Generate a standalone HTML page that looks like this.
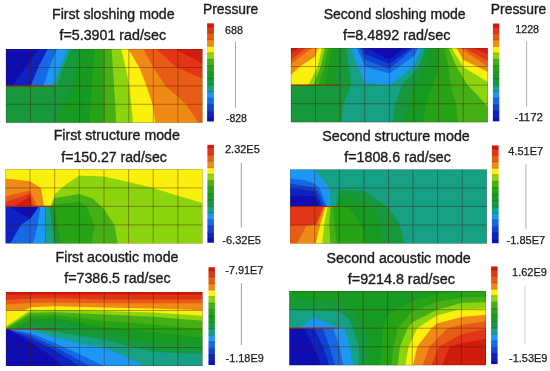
<!DOCTYPE html><html><head><meta charset="utf-8"><title>Pressure mode shapes</title><style>html,body{margin:0;padding:0;background:#fff}svg{display:block}text{font-family:"Liberation Sans",Arial,Helvetica,sans-serif;fill:#1a1a1a}</style></head><body>
<svg width="550" height="371" viewBox="0 0 550 371">
<defs><filter id="soft" x="-2%" y="-2%" width="104%" height="104%"><feGaussianBlur stdDeviation="0.45"/></filter></defs>
<rect width="550" height="371" fill="#fff"/>
<g id="plot1"><clipPath id="c1"><rect x="5.9" y="49.0" width="196.6" height="73.8"/></clipPath>
<g clip-path="url(#c1)"><g filter="url(#soft)">
<rect x="3.9" y="47.0" width="200.6" height="77.8" fill="#149a24"/>
<polygon points="5.9,49.0 79.6,49.0 75.9,67.5 72.3,85.9 63.7,104.3 55.0,122.8 5.9,122.8" fill="#14983c"/>
<polygon points="5.9,49.0 71.3,49.0 63.2,67.5 57.0,85.9 5.9,85.9" fill="#12a084"/>
<polygon points="5.9,49.0 68.1,49.0 60.0,67.5 52.6,85.9 5.9,85.9" fill="#1a98f4"/>
<polygon points="5.9,49.0 57.0,49.0 49.2,67.5 43.3,85.9 5.9,85.9" fill="#1468e4"/>
<polygon points="5.9,49.0 47.7,49.0 38.1,67.5 30.7,85.9 5.9,85.9" fill="#0a24c0"/>
<polygon points="5.9,49.0 38.8,49.0 25.6,67.5 12.5,85.9 5.9,85.9" fill="#0810b2"/>
<polygon points="202.5,49.0 94.4,49.0 93.1,67.5 91.9,85.9 90.7,104.3 89.5,122.8 202.5,122.8" fill="#28a418"/>
<polygon points="202.5,49.0 104.2,49.0 104.2,67.5 104.2,85.9 104.2,104.3 104.2,122.8 202.5,122.8" fill="#44b014"/>
<polygon points="202.5,49.0 111.6,49.0 112.8,67.5 114.0,85.9 115.3,104.3 116.0,122.8 202.5,122.8" fill="#8cd40e"/>
<polygon points="202.5,49.0 121.2,49.0 125.6,67.5 129.3,85.9 131.2,104.3 133.2,122.8 202.5,122.8" fill="#faf010"/>
<polygon points="202.5,49.0 128.3,49.0 139.3,67.5 146.5,85.9 152.6,104.3 155.3,122.8 202.5,122.8" fill="#f08a14"/>
<polygon points="202.5,49.0 143.3,49.0 153.3,67.5 165.6,85.9 186.0,104.3 198.3,122.8 202.5,122.8" fill="#e85c14"/>
<polygon points="202.5,49.0 156.3,49.0 176.7,67.5 202.5,78.5 202.5,78.5" fill="#e03616"/>
<polygon points="202.5,49.0 175.5,49.0 202.5,63.8 202.5,63.8" fill="#d01e0c"/>
</g>
<path d="M5.9 49.0V122.8M30.5 49.0V122.8M55.0 49.0V122.8M79.6 49.0V122.8M104.2 49.0V122.8M128.8 49.0V122.8M153.3 49.0V122.8M177.9 49.0V122.8M202.5 49.0V122.8M5.9 49.0H202.5M5.9 67.5H202.5M5.9 85.9H202.5M5.9 104.3H202.5M5.9 122.8H202.5" stroke="#4a1400" stroke-width="0.8" stroke-opacity="0.5" fill="none"/>
<path d="M5.9 85.9H55.0" stroke="#a02808" stroke-width="1.2" stroke-opacity="0.85" fill="none"/>
</g></g>
<g id="plot2"><clipPath id="c2"><rect x="290.9" y="48.0" width="196.9" height="74.2"/></clipPath>
<g clip-path="url(#c2)"><g filter="url(#soft)">
<rect x="288.9" y="46.0" width="200.9" height="78.2" fill="#14983c"/>
<polygon points="487.8,48.0 430.0,48.0 425.3,66.5 415.4,85.1 408.3,103.7 403.4,122.2 487.8,122.2" fill="#149a24"/>
<polygon points="487.8,48.0 438.6,48.0 438.6,66.5 432.4,85.1 426.3,103.7 422.8,122.2 487.8,122.2" fill="#28a418"/>
<polygon points="487.8,48.0 444.7,48.0 448.4,66.5 450.9,85.1 455.8,103.7 458.3,122.2 487.8,122.2" fill="#44b014"/>
<polygon points="487.8,48.0 448.4,48.0 456.3,66.5 467.6,85.1 485.3,103.7 487.8,107.4 487.8,107.4" fill="#8cd40e"/>
<polygon points="487.8,48.0 451.6,48.0 463.2,66.9 487.8,81.9 487.8,81.9" fill="#faf010"/>
<polygon points="487.8,48.0 456.5,48.0 463.2,59.7 487.8,72.1 487.8,72.1" fill="#f08a14"/>
<polygon points="487.8,48.0 460.2,48.0 487.8,66.5 487.8,66.5" fill="#e85c14"/>
<polygon points="487.8,48.0 464.7,48.0 487.8,61.0 487.8,61.0" fill="#e03616"/>
<polygon points="487.8,48.0 474.0,48.0 487.8,54.5 487.8,54.5" fill="#d01e0c"/>
<polygon points="346.3,48.0 348.5,66.5 351.2,85.1 343.6,103.7 340.6,122.2 392.5,122.2 395.0,103.7 402.1,85.1 418.9,66.5 425.3,48.0" fill="#12a084"/>
<polygon points="350.7,48.0 357.8,66.5 364.7,83.2 389.4,85.1 414.0,66.5 421.3,48.0" fill="#1a98f4"/>
<polygon points="357.1,48.0 364.7,66.5 389.4,73.4 414.0,56.0 418.6,48.0" fill="#1468e4"/>
<polygon points="360.1,48.0 364.7,59.7 389.4,69.1 414.0,48.0" fill="#0e44d2"/>
<polygon points="363.0,48.0 364.7,53.8 389.4,64.0 411.3,48.0" fill="#0a24c0"/>
<polygon points="366.0,48.0 389.4,59.7 404.9,48.0" fill="#0810b2"/>
<polygon points="290.9,48.0 340.1,48.0 337.7,66.5 334.7,85.1 290.9,85.1" fill="#149a24"/>
<polygon points="290.9,48.0 331.8,48.0 328.8,66.5 324.4,85.1 290.9,85.1" fill="#28a418"/>
<polygon points="290.9,48.0 328.1,48.0 324.4,66.5 318.5,85.1 290.9,85.1" fill="#44b014"/>
<polygon points="290.9,48.0 325.1,48.0 320.7,66.5 313.5,85.1 290.9,85.1" fill="#8cd40e"/>
<polygon points="290.9,48.0 322.2,48.0 317.7,66.5 308.4,85.1 290.9,85.1" fill="#faf010"/>
<polygon points="290.9,48.0 317.7,48.0 315.5,56.3 299.8,66.5 290.9,74.9 290.9,74.9" fill="#f08a14"/>
<polygon points="290.9,48.0 312.1,48.0 290.9,64.0 290.9,64.0" fill="#e85c14"/>
<polygon points="290.9,48.0 306.2,48.0 290.9,59.7 290.9,59.7" fill="#e03616"/>
<polygon points="290.9,48.0 298.3,48.0 290.9,54.5 290.9,54.5" fill="#d01e0c"/>
</g>
<path d="M290.9 48.0V122.2M315.5 48.0V122.2M340.1 48.0V122.2M364.7 48.0V122.2M389.4 48.0V122.2M414.0 48.0V122.2M438.6 48.0V122.2M463.2 48.0V122.2M487.8 48.0V122.2M290.9 48.0H487.8M290.9 66.5H487.8M290.9 85.1H487.8M290.9 103.7H487.8M290.9 122.2H487.8" stroke="#4a1400" stroke-width="0.8" stroke-opacity="0.5" fill="none"/>
<path d="M290.9 85.1H340.1" stroke="#a02808" stroke-width="1.2" stroke-opacity="0.85" fill="none"/>
</g></g>
<g id="plot3"><clipPath id="c3"><rect x="5.4" y="169.3" width="197.1" height="74.2"/></clipPath>
<g clip-path="url(#c3)"><g filter="url(#soft)">
<rect x="3.4" y="167.3" width="201.1" height="78.2" fill="#faf010"/>
<polygon points="50.5,206.4 54.7,194.2 66.5,184.1 79.3,175.4 104.0,176.5 128.6,182.1 153.2,187.9 177.9,195.8 202.5,203.1 202.5,243.5 50.5,243.5" fill="#8cd40e"/>
<polygon points="51.7,206.4 54.7,198.1 79.3,194.0 92.6,198.4 104.0,209.2 114.5,224.9 117.7,243.5 51.7,243.5" fill="#44b014"/>
<polygon points="52.2,206.4 54.7,204.5 79.3,201.8 86.7,206.4 94.6,224.9 91.6,243.5 52.2,243.5" fill="#28a418"/>
<polygon points="45.3,206.4 54.2,206.4 60.8,243.5 45.3,243.5" fill="#149a24"/>
<polygon points="45.3,206.4 52.2,206.4 57.6,243.5 45.3,243.5" fill="#14983c"/>
<polygon points="45.3,206.4 49.7,206.4 54.7,243.5 45.3,243.5" fill="#12a084"/>
<polygon points="5.4,206.4 45.3,206.4 45.3,243.5 5.4,243.5" fill="#0a24c0"/>
<polygon points="39.9,206.4 45.3,206.4 45.3,243.5 32.7,243.5 37.4,224.9" fill="#1a98f4"/>
<polygon points="38.7,206.4 39.9,206.4 37.4,224.9 32.7,243.5 10.3,243.5 20.9,224.9 30.0,218.8" fill="#1468e4"/>
<polygon points="9.1,206.4 38.7,206.4 30.0,218.8" fill="#0810b2"/>
<polygon points="5.4,178.4 30.0,181.2 40.9,187.9 44.1,206.4 5.4,206.4" fill="#f08a14"/>
<polygon points="5.4,196.2 30.0,190.4 37.4,206.4 5.4,206.4" fill="#e85c14"/>
<polygon points="5.4,201.9 30.0,193.8 33.0,206.4 5.4,206.4" fill="#e03616"/>
<polygon points="14.0,206.4 30.0,196.6 31.5,206.4" fill="#d01e0c"/>
</g>
<path d="M5.4 169.3V243.5M30.0 169.3V243.5M54.7 169.3V243.5M79.3 169.3V243.5M104.0 169.3V243.5M128.6 169.3V243.5M153.2 169.3V243.5M177.9 169.3V243.5M202.5 169.3V243.5M5.4 169.3H202.5M5.4 187.9H202.5M5.4 206.4H202.5M5.4 224.9H202.5M5.4 243.5H202.5" stroke="#4a1400" stroke-width="0.8" stroke-opacity="0.5" fill="none"/>
<path d="M5.4 206.4H54.7" stroke="#a02808" stroke-width="1.2" stroke-opacity="0.85" fill="none"/>
</g></g>
<g id="plot4"><clipPath id="c4"><rect x="290.1" y="169.5" width="196.7" height="74.0"/></clipPath>
<g clip-path="url(#c4)"><g filter="url(#soft)">
<rect x="288.1" y="167.5" width="200.7" height="78.0" fill="#12a084"/>
<polygon points="336.1,206.5 339.3,189.8 363.9,190.8 376.2,199.1 388.5,207.4 399.0,223.2 404.4,243.5 330.4,243.5 330.4,206.5" fill="#14983c"/>
<polygon points="336.8,206.5 339.3,199.1 354.0,199.1 363.9,201.9 371.7,206.5 380.3,225.0 382.1,243.5 330.4,243.5 330.4,206.5" fill="#149a24"/>
<polygon points="336.8,206.5 349.1,208.3 357.7,218.5 363.9,231.5 365.1,243.5 330.4,243.5 330.4,206.5" fill="#28a418"/>
<polygon points="290.1,206.5 333.1,206.5 334.4,225.0 336.8,243.5 290.1,243.5" fill="#44b014"/>
<polygon points="290.1,206.5 330.4,206.5 329.2,225.0 330.4,243.5 290.1,243.5" fill="#8cd40e"/>
<polygon points="290.1,206.5 327.5,206.5 324.0,225.0 322.3,243.5 290.1,243.5" fill="#faf010"/>
<polygon points="290.1,206.5 325.5,206.5 320.1,225.0 315.7,243.5 290.1,243.5" fill="#f08a14"/>
<polygon points="290.1,206.5 324.3,206.5 317.1,225.0 306.6,225.6 297.0,243.5 290.1,243.5" fill="#e85c14"/>
<polygon points="290.1,206.5 323.0,206.5 315.7,224.4 304.9,225.0 290.1,225.6" fill="#e03616"/>
<polygon points="290.1,169.5 314.7,169.5 329.7,188.0 330.4,206.5 290.1,206.5" fill="#1a98f4"/>
<polygon points="290.1,178.4 304.9,180.2 314.7,183.7 319.6,188.0 327.0,206.5 290.1,206.5" fill="#1468e4"/>
<polygon points="290.1,183.4 314.7,187.6 318.4,191.7 324.8,206.5 290.1,206.5" fill="#0e44d2"/>
<polygon points="290.1,188.0 314.7,191.1 322.6,206.5 290.1,206.5" fill="#0a24c0"/>
<polygon points="290.1,195.4 314.7,196.3 319.6,206.5 290.1,206.5" fill="#0810b2"/>
</g>
<path d="M290.1 169.5V243.5M314.7 169.5V243.5M339.3 169.5V243.5M363.9 169.5V243.5M388.5 169.5V243.5M413.0 169.5V243.5M437.6 169.5V243.5M462.2 169.5V243.5M486.8 169.5V243.5M290.1 169.5H486.8M290.1 188.0H486.8M290.1 206.5H486.8M290.1 225.0H486.8M290.1 243.5H486.8" stroke="#4a1400" stroke-width="0.8" stroke-opacity="0.5" fill="none"/>
<path d="M290.1 206.5H339.3" stroke="#a02808" stroke-width="1.2" stroke-opacity="0.85" fill="none"/>
</g></g>
<g id="plot5"><clipPath id="c5"><rect x="5.9" y="292.0" width="196.6" height="74.0"/></clipPath>
<g clip-path="url(#c5)"><g filter="url(#soft)">
<rect x="3.9" y="290.0" width="200.6" height="78.0" fill="#d01e0c"/>
<polygon points="5.9,295.1 30.5,294.8 104.2,294.8 202.5,295.0 202.5,366.0 5.9,366.0" fill="#e03616"/>
<polygon points="5.9,300.1 30.5,298.8 55.0,298.3 104.2,299.4 202.5,299.4 202.5,366.0 5.9,366.0" fill="#e85c14"/>
<polygon points="5.9,304.6 30.5,303.1 55.0,302.5 104.2,303.3 202.5,303.3 202.5,366.0 5.9,366.0" fill="#f08a14"/>
<polygon points="5.9,310.5 24.3,310.5 30.5,307.2 55.0,306.2 104.2,307.5 153.3,308.5 202.5,310.2 202.5,366.0 5.9,366.0" fill="#faf010"/>
<polygon points="5.9,326.2 30.5,310.5 55.0,309.9 104.2,310.9 153.3,312.4 202.5,315.7 202.5,366.0 5.9,366.0" fill="#8cd40e"/>
<polygon points="5.9,328.1 30.5,312.7 55.0,312.2 104.2,314.6 153.3,316.8 202.5,320.7 202.5,366.0 5.9,366.0" fill="#44b014"/>
<polygon points="5.9,329.0 30.5,315.7 55.0,314.8 104.2,320.9 153.3,324.4 202.5,329.0 202.5,366.0 5.9,366.0" fill="#28a418"/>
<polygon points="5.9,329.0 13.3,329.0 30.5,319.4 55.0,317.9 104.2,327.1 153.3,332.0 202.5,337.7 202.5,366.0 5.9,366.0" fill="#149a24"/>
<polygon points="5.9,329.0 20.6,329.0 30.5,323.6 55.0,321.6 79.6,327.1 104.2,333.3 153.3,342.9 202.5,346.2 202.5,366.0 5.9,366.0" fill="#14983c"/>
<polygon points="5.9,329.0 30.5,329.0 55.0,331.4 79.6,335.8 104.2,339.5 128.8,346.2 153.3,351.6 177.9,353.1 202.5,353.6 202.5,366.0 5.9,366.0" fill="#12a084"/>
<polygon points="5.9,329.0 30.5,329.9 55.0,337.3 79.6,343.2 104.2,347.5 128.8,358.2 143.5,366.0 5.9,366.0" fill="#1a98f4"/>
<polygon points="5.9,329.0 30.5,332.9 55.0,343.2 79.6,354.2 104.2,366.0 5.9,366.0" fill="#1468e4"/>
<polygon points="5.9,329.0 30.5,335.5 55.0,346.9 79.6,360.4 89.5,366.0 5.9,366.0" fill="#0e44d2"/>
<polygon points="5.9,329.0 30.5,338.2 55.0,350.5 79.6,366.0 5.9,366.0" fill="#0a24c0"/>
<polygon points="5.9,329.0 8.4,329.0 30.5,341.9 55.0,358.6 62.4,366.0 5.9,366.0" fill="#0810b2"/>
</g>
<path d="M5.9 292.0V366.0M30.5 292.0V366.0M55.0 292.0V366.0M79.6 292.0V366.0M104.2 292.0V366.0M128.8 292.0V366.0M153.3 292.0V366.0M177.9 292.0V366.0M202.5 292.0V366.0M5.9 292.0H202.5M5.9 310.5H202.5M5.9 329.0H202.5M5.9 347.5H202.5M5.9 366.0H202.5" stroke="#4a1400" stroke-width="0.8" stroke-opacity="0.5" fill="none"/>
<path d="M5.9 329.0H55.0" stroke="#a02808" stroke-width="1.2" stroke-opacity="0.85" fill="none"/>
</g></g>
<g id="plot6"><clipPath id="c6"><rect x="289.3" y="291.1" width="196.7" height="74.2"/></clipPath>
<g clip-path="url(#c6)"><g filter="url(#soft)">
<rect x="287.3" y="289.1" width="200.7" height="78.2" fill="#149a24"/>
<polygon points="380.3,365.3 381.5,346.8 382.7,328.2 387.6,315.2 412.2,300.9 436.8,294.4 461.4,291.1 486.0,291.1 486.0,365.3" fill="#28a418"/>
<polygon points="391.3,365.3 393.8,346.8 397.7,328.2 412.2,311.5 436.8,301.9 461.4,297.6 486.0,296.7 486.0,365.3" fill="#44b014"/>
<polygon points="397.7,365.3 399.9,346.8 407.6,328.2 412.2,322.4 436.8,309.7 461.4,303.0 486.0,301.9 486.0,365.3" fill="#8cd40e"/>
<polygon points="405.4,365.3 408.5,346.8 417.2,328.2 436.8,315.6 458.2,309.7 486.0,308.4 486.0,365.3" fill="#faf010"/>
<polygon points="413.0,365.3 417.2,346.8 431.4,328.2 436.8,323.6 461.4,317.1 486.0,314.8 486.0,365.3" fill="#f08a14"/>
<polygon points="422.6,365.3 429.2,346.8 447.6,328.2 461.4,324.7 486.0,321.3 486.0,365.3" fill="#e85c14"/>
<polygon points="431.4,365.3 438.8,346.8 461.4,334.3 486.0,328.9 486.0,365.3" fill="#e03616"/>
<polygon points="442.0,365.3 449.6,346.8 461.4,343.0 486.0,338.8 486.0,365.3" fill="#d01e0c"/>
<polygon points="289.3,298.9 338.5,301.9 351.5,309.7 365.0,328.2 367.7,346.8 366.8,365.3 289.3,365.3" fill="#14983c"/>
<polygon points="289.3,309.7 338.5,311.3 348.3,318.6 353.2,328.2 359.1,346.8 358.9,365.3 289.3,365.3" fill="#12a084"/>
<polygon points="299.6,328.2 313.9,317.6 338.5,327.6 344.9,328.2 349.5,346.8 353.2,365.3 289.3,365.3 289.3,328.2" fill="#1a98f4"/>
<polygon points="289.3,328.2 333.1,328.2 339.5,346.8 343.1,365.3 289.3,365.3" fill="#1468e4"/>
<polygon points="289.3,328.2 323.0,328.2 329.4,346.8 335.0,365.3 289.3,365.3" fill="#0e44d2"/>
<polygon points="289.3,328.2 313.9,328.2 323.0,346.8 329.4,365.3 289.3,365.3" fill="#0a24c0"/>
<polygon points="289.3,328.2 303.8,328.2 313.9,346.8 321.3,365.3 289.3,365.3" fill="#0810b2"/>
</g>
<path d="M289.3 291.1V365.3M313.9 291.1V365.3M338.5 291.1V365.3M363.1 291.1V365.3M387.6 291.1V365.3M412.2 291.1V365.3M436.8 291.1V365.3M461.4 291.1V365.3M486.0 291.1V365.3M289.3 291.1H486.0M289.3 309.7H486.0M289.3 328.2H486.0M289.3 346.8H486.0M289.3 365.3H486.0" stroke="#4a1400" stroke-width="0.8" stroke-opacity="0.5" fill="none"/>
<path d="M289.3 328.2H338.5" stroke="#a02808" stroke-width="1.2" stroke-opacity="0.85" fill="none"/>
</g></g>
<g filter="url(#soft)">
<rect x="207.1" y="23.30" width="6.8" height="3.89" fill="#d01e0c"/>
<rect x="207.1" y="26.89" width="6.8" height="6.78" fill="#e03616"/>
<rect x="207.1" y="33.37" width="6.8" height="6.78" fill="#e85c14"/>
<rect x="207.1" y="39.85" width="6.8" height="6.78" fill="#f08a14"/>
<rect x="207.1" y="46.33" width="6.8" height="6.78" fill="#faf010"/>
<rect x="207.1" y="52.81" width="6.8" height="6.78" fill="#8cd40e"/>
<rect x="207.1" y="59.29" width="6.8" height="6.78" fill="#44b014"/>
<rect x="207.1" y="65.77" width="6.8" height="6.78" fill="#28a418"/>
<rect x="207.1" y="72.25" width="6.8" height="6.78" fill="#149a24"/>
<rect x="207.1" y="78.73" width="6.8" height="6.78" fill="#14983c"/>
<rect x="207.1" y="85.21" width="6.8" height="6.78" fill="#12a084"/>
<rect x="207.1" y="91.69" width="6.8" height="6.78" fill="#1a98f4"/>
<rect x="207.1" y="98.17" width="6.8" height="6.78" fill="#1468e4"/>
<rect x="207.1" y="104.65" width="6.8" height="6.78" fill="#0e44d2"/>
<rect x="207.1" y="111.13" width="6.8" height="6.78" fill="#0a24c0"/>
<rect x="207.1" y="117.61" width="6.8" height="3.89" fill="#0810b2"/>
</g>
<path d="M207.1 26.89H213.9M207.1 33.37H213.9M207.1 39.85H213.9M207.1 46.33H213.9M207.1 52.81H213.9M207.1 59.29H213.9M207.1 65.77H213.9M207.1 72.25H213.9M207.1 78.73H213.9M207.1 85.21H213.9M207.1 91.69H213.9M207.1 98.17H213.9M207.1 104.65H213.9M207.1 111.13H213.9M207.1 117.61H213.9" stroke="#000" stroke-opacity="0.35" stroke-width="0.6" fill="none"/>
<g filter="url(#soft)">
<rect x="492.9" y="23.50" width="6.4" height="3.87" fill="#d01e0c"/>
<rect x="492.9" y="27.07" width="6.4" height="6.75" fill="#e03616"/>
<rect x="492.9" y="33.53" width="6.4" height="6.75" fill="#e85c14"/>
<rect x="492.9" y="39.98" width="6.4" height="6.75" fill="#f08a14"/>
<rect x="492.9" y="46.44" width="6.4" height="6.75" fill="#faf010"/>
<rect x="492.9" y="52.89" width="6.4" height="6.75" fill="#8cd40e"/>
<rect x="492.9" y="59.34" width="6.4" height="6.75" fill="#44b014"/>
<rect x="492.9" y="65.80" width="6.4" height="6.75" fill="#28a418"/>
<rect x="492.9" y="72.25" width="6.4" height="6.75" fill="#149a24"/>
<rect x="492.9" y="78.70" width="6.4" height="6.75" fill="#14983c"/>
<rect x="492.9" y="85.16" width="6.4" height="6.75" fill="#12a084"/>
<rect x="492.9" y="91.61" width="6.4" height="6.75" fill="#1a98f4"/>
<rect x="492.9" y="98.06" width="6.4" height="6.75" fill="#1468e4"/>
<rect x="492.9" y="104.52" width="6.4" height="6.75" fill="#0e44d2"/>
<rect x="492.9" y="110.97" width="6.4" height="6.75" fill="#0a24c0"/>
<rect x="492.9" y="117.42" width="6.4" height="3.88" fill="#0810b2"/>
</g>
<path d="M492.9 27.07H499.3M492.9 33.53H499.3M492.9 39.98H499.3M492.9 46.44H499.3M492.9 52.89H499.3M492.9 59.34H499.3M492.9 65.80H499.3M492.9 72.25H499.3M492.9 78.70H499.3M492.9 85.16H499.3M492.9 91.61H499.3M492.9 98.06H499.3M492.9 104.52H499.3M492.9 110.97H499.3M492.9 117.42H499.3" stroke="#000" stroke-opacity="0.35" stroke-width="0.6" fill="none"/>
<g filter="url(#soft)">
<rect x="207.4" y="144.80" width="6.5" height="3.88" fill="#d01e0c"/>
<rect x="207.4" y="148.38" width="6.5" height="6.76" fill="#e03616"/>
<rect x="207.4" y="154.84" width="6.5" height="6.76" fill="#e85c14"/>
<rect x="207.4" y="161.30" width="6.5" height="6.76" fill="#f08a14"/>
<rect x="207.4" y="167.76" width="6.5" height="6.76" fill="#faf010"/>
<rect x="207.4" y="174.22" width="6.5" height="6.76" fill="#8cd40e"/>
<rect x="207.4" y="180.68" width="6.5" height="6.76" fill="#44b014"/>
<rect x="207.4" y="187.14" width="6.5" height="6.76" fill="#28a418"/>
<rect x="207.4" y="193.60" width="6.5" height="6.76" fill="#149a24"/>
<rect x="207.4" y="200.06" width="6.5" height="6.76" fill="#14983c"/>
<rect x="207.4" y="206.52" width="6.5" height="6.76" fill="#12a084"/>
<rect x="207.4" y="212.98" width="6.5" height="6.76" fill="#1a98f4"/>
<rect x="207.4" y="219.44" width="6.5" height="6.76" fill="#1468e4"/>
<rect x="207.4" y="225.90" width="6.5" height="6.76" fill="#0e44d2"/>
<rect x="207.4" y="232.36" width="6.5" height="6.76" fill="#0a24c0"/>
<rect x="207.4" y="238.82" width="6.5" height="3.88" fill="#0810b2"/>
</g>
<path d="M207.4 148.38H213.9M207.4 154.84H213.9M207.4 161.30H213.9M207.4 167.76H213.9M207.4 174.22H213.9M207.4 180.68H213.9M207.4 187.14H213.9M207.4 193.60H213.9M207.4 200.06H213.9M207.4 206.52H213.9M207.4 212.98H213.9M207.4 219.44H213.9M207.4 225.90H213.9M207.4 232.36H213.9M207.4 238.82H213.9" stroke="#000" stroke-opacity="0.35" stroke-width="0.6" fill="none"/>
<g filter="url(#soft)">
<rect x="491.9" y="145.40" width="6.7" height="3.87" fill="#d01e0c"/>
<rect x="491.9" y="148.97" width="6.7" height="6.75" fill="#e03616"/>
<rect x="491.9" y="155.43" width="6.7" height="6.75" fill="#e85c14"/>
<rect x="491.9" y="161.88" width="6.7" height="6.75" fill="#f08a14"/>
<rect x="491.9" y="168.34" width="6.7" height="6.75" fill="#faf010"/>
<rect x="491.9" y="174.79" width="6.7" height="6.75" fill="#8cd40e"/>
<rect x="491.9" y="181.24" width="6.7" height="6.75" fill="#44b014"/>
<rect x="491.9" y="187.70" width="6.7" height="6.75" fill="#28a418"/>
<rect x="491.9" y="194.15" width="6.7" height="6.75" fill="#149a24"/>
<rect x="491.9" y="200.60" width="6.7" height="6.75" fill="#14983c"/>
<rect x="491.9" y="207.06" width="6.7" height="6.75" fill="#12a084"/>
<rect x="491.9" y="213.51" width="6.7" height="6.75" fill="#1a98f4"/>
<rect x="491.9" y="219.96" width="6.7" height="6.75" fill="#1468e4"/>
<rect x="491.9" y="226.42" width="6.7" height="6.75" fill="#0e44d2"/>
<rect x="491.9" y="232.87" width="6.7" height="6.75" fill="#0a24c0"/>
<rect x="491.9" y="239.32" width="6.7" height="3.88" fill="#0810b2"/>
</g>
<path d="M491.9 148.97H498.6M491.9 155.43H498.6M491.9 161.88H498.6M491.9 168.34H498.6M491.9 174.79H498.6M491.9 181.24H498.6M491.9 187.70H498.6M491.9 194.15H498.6M491.9 200.60H498.6M491.9 207.06H498.6M491.9 213.51H498.6M491.9 219.96H498.6M491.9 226.42H498.6M491.9 232.87H498.6M491.9 239.32H498.6" stroke="#000" stroke-opacity="0.35" stroke-width="0.6" fill="none"/>
<g filter="url(#soft)">
<rect x="208.5" y="267.20" width="6.4" height="3.87" fill="#d01e0c"/>
<rect x="208.5" y="270.77" width="6.4" height="6.75" fill="#e03616"/>
<rect x="208.5" y="277.23" width="6.4" height="6.75" fill="#e85c14"/>
<rect x="208.5" y="283.68" width="6.4" height="6.75" fill="#f08a14"/>
<rect x="208.5" y="290.14" width="6.4" height="6.75" fill="#faf010"/>
<rect x="208.5" y="296.59" width="6.4" height="6.75" fill="#8cd40e"/>
<rect x="208.5" y="303.04" width="6.4" height="6.75" fill="#44b014"/>
<rect x="208.5" y="309.50" width="6.4" height="6.75" fill="#28a418"/>
<rect x="208.5" y="315.95" width="6.4" height="6.75" fill="#149a24"/>
<rect x="208.5" y="322.40" width="6.4" height="6.75" fill="#14983c"/>
<rect x="208.5" y="328.86" width="6.4" height="6.75" fill="#12a084"/>
<rect x="208.5" y="335.31" width="6.4" height="6.75" fill="#1a98f4"/>
<rect x="208.5" y="341.76" width="6.4" height="6.75" fill="#1468e4"/>
<rect x="208.5" y="348.22" width="6.4" height="6.75" fill="#0e44d2"/>
<rect x="208.5" y="354.67" width="6.4" height="6.75" fill="#0a24c0"/>
<rect x="208.5" y="361.12" width="6.4" height="3.88" fill="#0810b2"/>
</g>
<path d="M208.5 270.77H214.9M208.5 277.23H214.9M208.5 283.68H214.9M208.5 290.14H214.9M208.5 296.59H214.9M208.5 303.04H214.9M208.5 309.50H214.9M208.5 315.95H214.9M208.5 322.40H214.9M208.5 328.86H214.9M208.5 335.31H214.9M208.5 341.76H214.9M208.5 348.22H214.9M208.5 354.67H214.9M208.5 361.12H214.9" stroke="#000" stroke-opacity="0.35" stroke-width="0.6" fill="none"/>
<g filter="url(#soft)">
<rect x="491.1" y="266.40" width="6.5" height="3.87" fill="#d01e0c"/>
<rect x="491.1" y="269.97" width="6.5" height="6.75" fill="#e03616"/>
<rect x="491.1" y="276.42" width="6.5" height="6.75" fill="#e85c14"/>
<rect x="491.1" y="282.87" width="6.5" height="6.75" fill="#f08a14"/>
<rect x="491.1" y="289.31" width="6.5" height="6.75" fill="#faf010"/>
<rect x="491.1" y="295.76" width="6.5" height="6.75" fill="#8cd40e"/>
<rect x="491.1" y="302.21" width="6.5" height="6.75" fill="#44b014"/>
<rect x="491.1" y="308.65" width="6.5" height="6.75" fill="#28a418"/>
<rect x="491.1" y="315.10" width="6.5" height="6.75" fill="#149a24"/>
<rect x="491.1" y="321.55" width="6.5" height="6.75" fill="#14983c"/>
<rect x="491.1" y="327.99" width="6.5" height="6.75" fill="#12a084"/>
<rect x="491.1" y="334.44" width="6.5" height="6.75" fill="#1a98f4"/>
<rect x="491.1" y="340.89" width="6.5" height="6.75" fill="#1468e4"/>
<rect x="491.1" y="347.33" width="6.5" height="6.75" fill="#0e44d2"/>
<rect x="491.1" y="353.78" width="6.5" height="6.75" fill="#0a24c0"/>
<rect x="491.1" y="360.23" width="6.5" height="3.87" fill="#0810b2"/>
</g>
<path d="M491.1 269.97H497.6M491.1 276.42H497.6M491.1 282.87H497.6M491.1 289.31H497.6M491.1 295.76H497.6M491.1 302.21H497.6M491.1 308.65H497.6M491.1 315.10H497.6M491.1 321.55H497.6M491.1 327.99H497.6M491.1 334.44H497.6M491.1 340.89H497.6M491.1 347.33H497.6M491.1 353.78H497.6M491.1 360.23H497.6" stroke="#000" stroke-opacity="0.35" stroke-width="0.6" fill="none"/>
<path d="M235.5 41.5V107.6" stroke="#a4a4a4" stroke-width="0.9" fill="none"/>
<path d="M526.6 41.5V106.5" stroke="#a4a4a4" stroke-width="0.9" fill="none"/>
<path d="M241.3 162.7V227.5" stroke="#969696" stroke-width="0.9" fill="none"/>
<path d="M525.9 164.0V228.9" stroke="#a8a8a8" stroke-width="0.9" fill="none"/>
<path d="M241.4 283.2V345.0" stroke="#969696" stroke-width="0.9" fill="none"/>
<path d="M524.9 285.6V343.9" stroke="#cccccc" stroke-width="0.9" fill="none"/>
<g>
<text x="52.0" y="18.9" font-size="14" textLength="122.5" lengthAdjust="spacingAndGlyphs" stroke="#1a1a1a" stroke-width="0.35">First sloshing mode</text>
<text x="59.5" y="40.3" font-size="14" textLength="106.5" lengthAdjust="spacingAndGlyphs" stroke="#1a1a1a" stroke-width="0.35">f=5.3901 rad/sec</text>
<text x="323.7" y="18.9" font-size="14" textLength="142.0" lengthAdjust="spacingAndGlyphs" stroke="#1a1a1a" stroke-width="0.35">Second sloshing mode</text>
<text x="342.9" y="40.0" font-size="14" textLength="107.6" lengthAdjust="spacingAndGlyphs" stroke="#1a1a1a" stroke-width="0.35">f=8.4892 rad/sec</text>
<text x="203.0" y="13.8" font-size="14" textLength="55.3" lengthAdjust="spacingAndGlyphs" stroke="#1a1a1a" stroke-width="0.35">Pressure</text>
<text x="490.8" y="14.0" font-size="14" textLength="55.5" lengthAdjust="spacingAndGlyphs" stroke="#1a1a1a" stroke-width="0.35">Pressure</text>
<text x="225.1" y="33.5" font-size="11" textLength="17.9" lengthAdjust="spacingAndGlyphs" stroke="#1a1a1a" stroke-width="0.25">688</text>
<text x="226.0" y="121.6" font-size="11" textLength="20.9" lengthAdjust="spacingAndGlyphs" stroke="#1a1a1a" stroke-width="0.25">-828</text>
<text x="515.3" y="33.0" font-size="11" textLength="23.7" lengthAdjust="spacingAndGlyphs" stroke="#1a1a1a" stroke-width="0.25">1228</text>
<text x="514.4" y="120.8" font-size="11" textLength="28.6" lengthAdjust="spacingAndGlyphs" stroke="#1a1a1a" stroke-width="0.25">-1172</text>
<text x="225.0" y="153.2" font-size="11" textLength="34.8" lengthAdjust="spacingAndGlyphs" stroke="#1a1a1a" stroke-width="0.25">2.32E5</text>
<text x="222.3" y="244.0" font-size="11" textLength="38.7" lengthAdjust="spacingAndGlyphs" stroke="#1a1a1a" stroke-width="0.25">-6.32E5</text>
<text x="508.3" y="155.2" font-size="11" textLength="34.8" lengthAdjust="spacingAndGlyphs" stroke="#1a1a1a" stroke-width="0.25">4.51E7</text>
<text x="506.6" y="243.7" font-size="11" textLength="38.5" lengthAdjust="spacingAndGlyphs" stroke="#1a1a1a" stroke-width="0.25">-1.85E7</text>
<text x="225.2" y="273.9" font-size="11" textLength="38.2" lengthAdjust="spacingAndGlyphs" stroke="#1a1a1a" stroke-width="0.25">-7.91E7</text>
<text x="225.6" y="361.9" font-size="11" textLength="38.1" lengthAdjust="spacingAndGlyphs" stroke="#1a1a1a" stroke-width="0.25">-1.18E9</text>
<text x="512.1" y="276.2" font-size="11" textLength="34.7" lengthAdjust="spacingAndGlyphs" stroke="#1a1a1a" stroke-width="0.25">1.62E9</text>
<text x="509.0" y="361.5" font-size="11" textLength="38.4" lengthAdjust="spacingAndGlyphs" stroke="#1a1a1a" stroke-width="0.25">-1.53E9</text>
<text x="53.7" y="139.8" font-size="14" textLength="126.2" lengthAdjust="spacingAndGlyphs" stroke="#1a1a1a" stroke-width="0.35">First structure mode</text>
<text x="61.3" y="161.6" font-size="14" textLength="105.5" lengthAdjust="spacingAndGlyphs" stroke="#1a1a1a" stroke-width="0.35">f=150.27 rad/sec</text>
<text x="322.2" y="140.7" font-size="14" textLength="147.6" lengthAdjust="spacingAndGlyphs" stroke="#1a1a1a" stroke-width="0.35">Second structure mode</text>
<text x="344.3" y="162.2" font-size="14" textLength="106.6" lengthAdjust="spacingAndGlyphs" stroke="#1a1a1a" stroke-width="0.35">f=1808.6 rad/sec</text>
<text x="55.6" y="261.6" font-size="14" textLength="122.8" lengthAdjust="spacingAndGlyphs" stroke="#1a1a1a" stroke-width="0.35">First acoustic mode</text>
<text x="64.3" y="283.4" font-size="14" textLength="106.2" lengthAdjust="spacingAndGlyphs" stroke="#1a1a1a" stroke-width="0.35">f=7386.5 rad/sec</text>
<text x="326.6" y="262.5" font-size="14" textLength="144.2" lengthAdjust="spacingAndGlyphs" stroke="#1a1a1a" stroke-width="0.35">Second acoustic mode</text>
<text x="347.8" y="284.4" font-size="14" textLength="107.0" lengthAdjust="spacingAndGlyphs" stroke="#1a1a1a" stroke-width="0.35">f=9214.8 rad/sec</text>
</g>
</svg></body></html>
